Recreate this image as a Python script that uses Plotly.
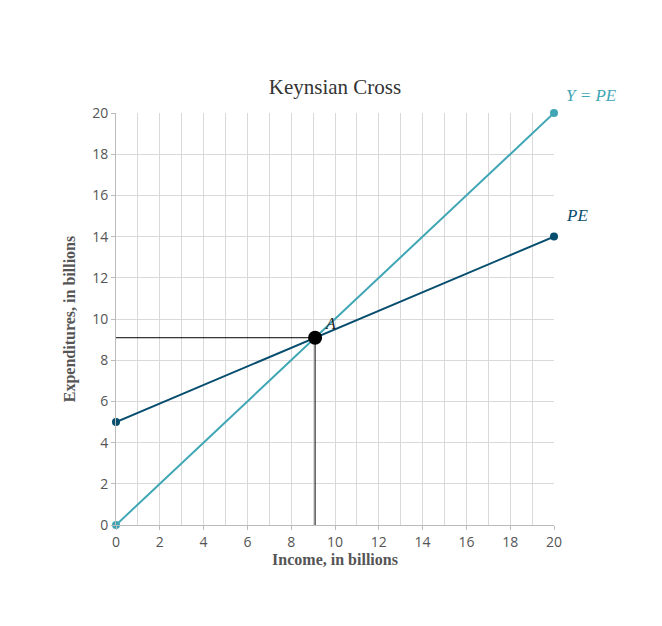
import plotly.graph_objects as go

income = [0, 20]
ype = [0, 20]
pe = [5, 14]
eq_x = 100/11
eq_y = 100/11

teal = "#3fa6b5"
navy = "#064d6e"

fig = go.Figure()
fig.add_trace(go.Scatter(x=[0, eq_x, eq_x], y=[eq_y, eq_y, 0], mode="lines",
                         line=dict(color="black", width=1), hoverinfo="skip"))
fig.add_trace(go.Scatter(x=income, y=ype, mode="lines+markers",
                         line=dict(color=teal, width=2), marker=dict(size=8, color=teal)))
fig.add_trace(go.Scatter(x=income, y=pe, mode="lines+markers",
                         line=dict(color=navy, width=2), marker=dict(size=8, color=navy)))
fig.add_trace(go.Scatter(x=[eq_x], y=[eq_y], mode="markers",
                         marker=dict(size=14, color="black")))

fig.add_annotation(x=20, y=20, text="<i>Y = PE</i>", showarrow=False, xanchor="left",
                   yanchor="bottom", xshift=10, yshift=6,
                   font=dict(family="Liberation Serif", size=17, color=teal))
fig.add_annotation(x=20, y=14, text="<i>PE</i>", showarrow=False, xanchor="left",
                   yanchor="bottom", xshift=10, yshift=10,
                   font=dict(family="Liberation Serif", size=17, color=navy))
fig.add_annotation(x=eq_x, y=eq_y, text="<i>A</i>", showarrow=False, xanchor="left",
                   yanchor="bottom", xshift=8, yshift=4,
                   font=dict(family="Liberation Serif", size=16, color="#222"))

fig.update_layout(
    width=662, height=626, showlegend=False,
    plot_bgcolor="white", paper_bgcolor="white",
    margin=dict(l=108, r=116, t=105, b=109),
    title=dict(text="Keynsian Cross", x=0.5, xanchor="center", y=0.874, yanchor="middle",
               xref="paper",
               font=dict(family="Liberation Serif", size=21, color="#333")),
)
fig.update_xaxes(range=[0, 20], tickvals=list(range(0, 21, 2)),
                 showgrid=True, gridcolor="#d9d9d9", gridwidth=1,
                 minor=dict(dtick=1, tick0=0, showgrid=True, gridcolor="#d9d9d9"),
                 zeroline=False, showline=True, linecolor="#bbb",
                 ticks="outside", ticklen=4, tickcolor="#bbb",
                 tickfont=dict(family="Open Sans", size=14, color="#555"),
                 title=dict(text="<b>Income, in billions</b>", standoff=4,
                            font=dict(family="Liberation Serif", size=16, color="#555")))
fig.update_yaxes(range=[0, 20], dtick=2,
                 showgrid=True, gridcolor="#d9d9d9", zeroline=False,
                 showline=True, linecolor="#bbb",
                 ticks="outside", ticklen=4, tickcolor="#bbb",
                 tickfont=dict(family="Open Sans", size=14, color="#555"),
                 title=dict(text="<b>Expenditures, in billions</b>", standoff=12,
                            font=dict(family="Liberation Serif", size=16, color="#555")))
for t in fig.data:
    t.cliponaxis = False
fig.write_html("out.html")
